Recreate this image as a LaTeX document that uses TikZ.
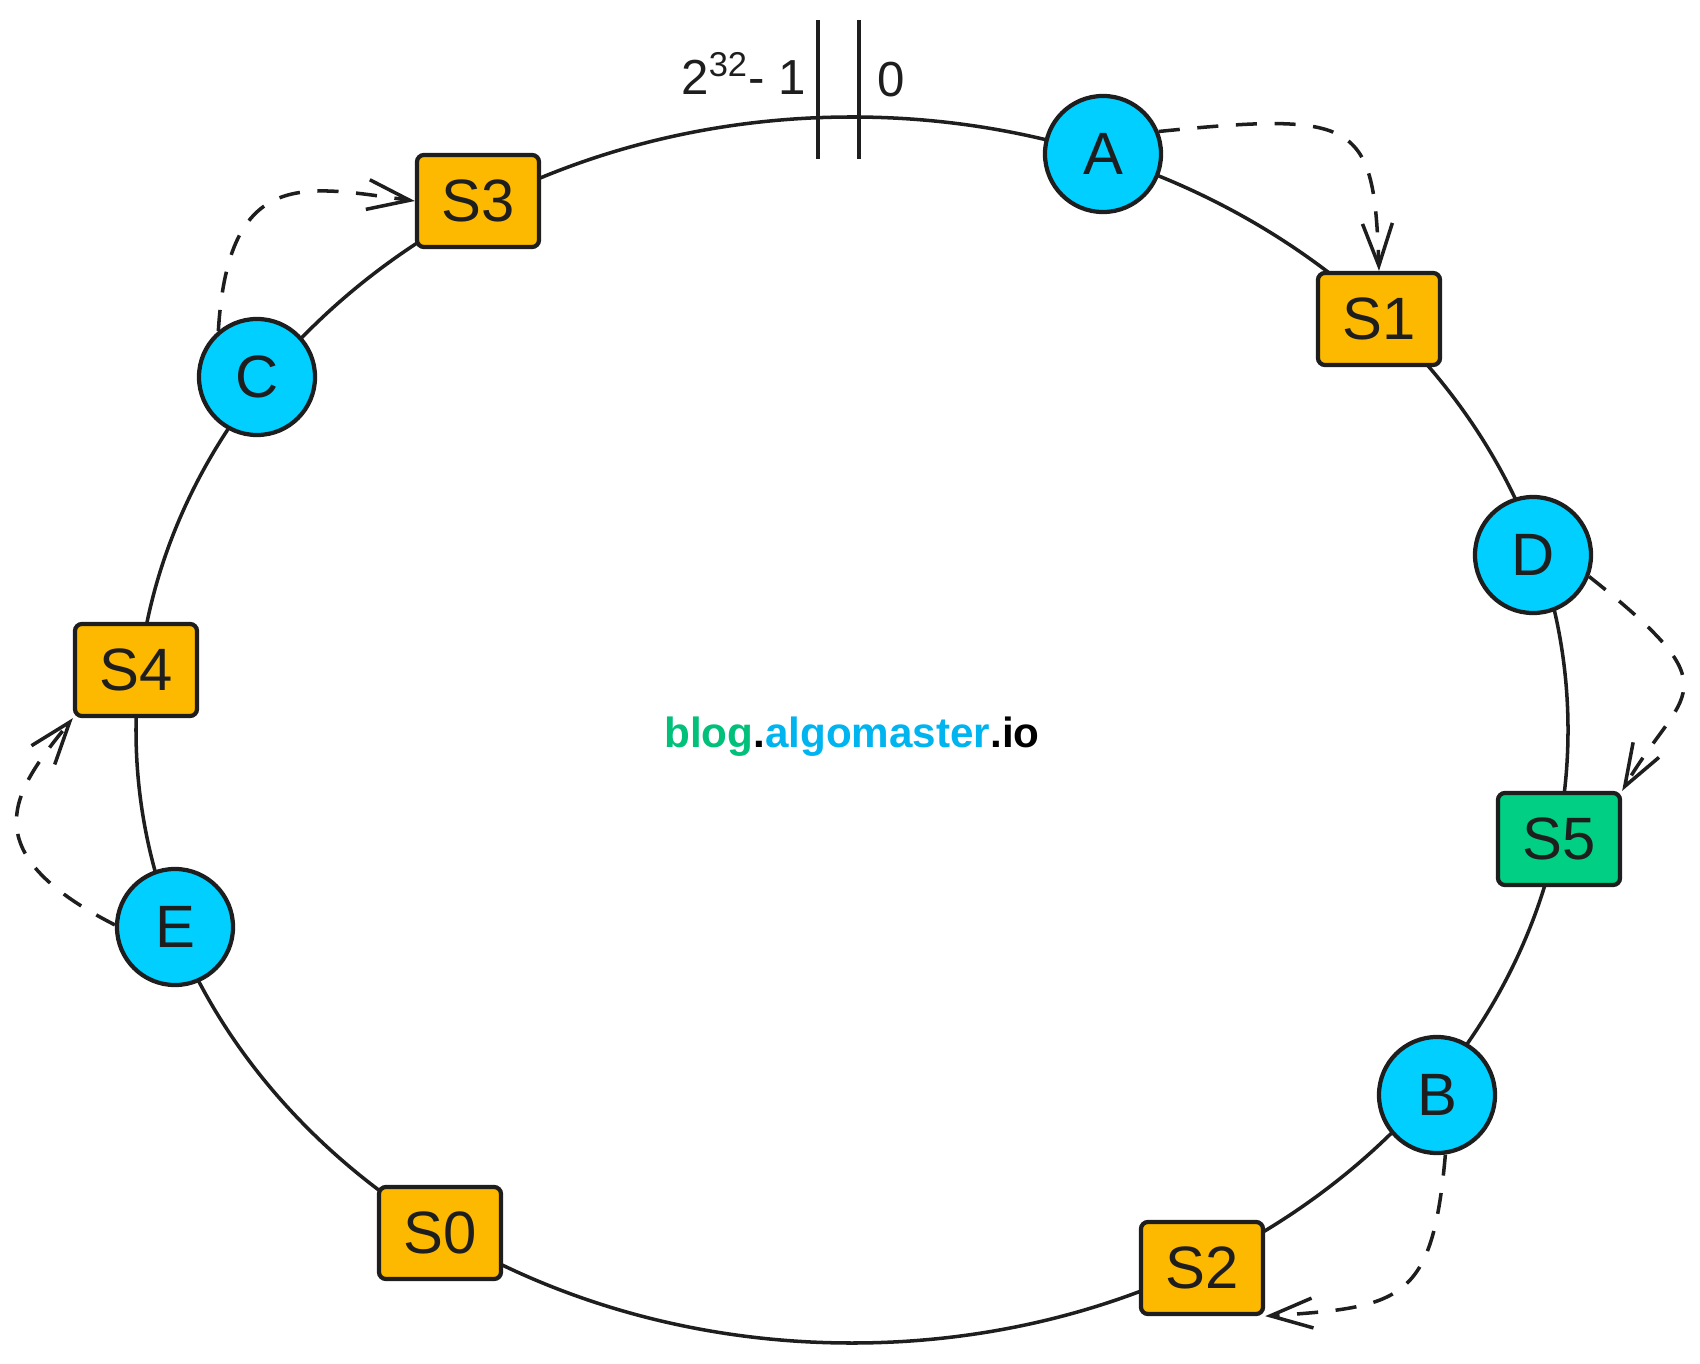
\documentclass[tikz,border=0pt]{standalone}
\usepackage{fontspec}
\setmainfont{Liberation Sans}
\usetikzlibrary{arrows.meta}
\definecolor{ink}{HTML}{1E1E1E}
\definecolor{keyblue}{HTML}{00CFFF}
\definecolor{srvorange}{HTML}{FDB900}
\definecolor{srvgreen}{HTML}{00CF84}
\definecolor{brandgreen}{HTML}{00C07A}
\definecolor{brandblue}{HTML}{00B4F0}

\begin{document}
\begin{tikzpicture}[x=0.01cm,y=-0.01cm,
  key/.style={circle,draw=ink,line width=1.2pt,fill=keyblue,text=ink,
    minimum size=1.16cm,inner sep=0pt,font=\fontsize{17}{20}\selectfont},
  server/.style={rectangle,rounded corners=2pt,draw=ink,line width=1.2pt,
    fill=srvorange,text=ink,minimum width=1.22cm,minimum height=0.92cm,
    inner sep=0pt,font=\fontsize{17}{20}\selectfont},
  lookup/.style={draw=ink,line width=1pt,dash pattern=on 6pt off 5pt,
    -{Straight Barb[length=12pt,width=8.5pt]}}]
\useasboundingbox (0,0) rectangle (1700,1364);

% the hash ring
\draw[ink,line width=1pt] (852,730) ellipse [x radius=716, y radius=613];
\draw[ink,line width=1pt] (818,20) -- (818,159) (859,20) -- (859,159);
\node (maxlabel) at (807,95) [anchor=base east,inner sep=0pt,text=ink,
  font=\fontsize{14}{16}\selectfont] {2\textsuperscript{32}- 1};
\node (zerolabel) at (877,97) [anchor=base west,inner sep=0pt,text=ink,
  font=\fontsize{14}{16}\selectfont] {0};

% servers
\node (S0) at (440,1233) [server] {S0};
\node (S1) at (1379,319) [server] {S1};
\node (S2) at (1202,1268) [server] {S2};
\node (S3) at (478,201) [server] {S3};
\node (S4) at (136,670) [server] {S4};
\node (S5) at (1559,839) [server,fill=srvgreen] {S5};

% keys
\node (A) at (1103,154) [key] {A};
\node (B) at (1437,1095) [key] {B};
\node (C) at (257,377) [key] {C};
\node (D) at (1533,555) [key] {D};
\node (E) at (175,927) [key] {E};

% each key goes clockwise to the next server
\draw[lookup] (A.22) .. controls +(200,-20) and +(-5,-150) .. (S1.north);
\draw[lookup] (D.-21) .. controls +(147,117) and +(60,-103) .. (S5.north east);
\draw[lookup] (B.-82) .. controls +(-13,147) and +(137,-9) .. (S2.south east);
\draw[lookup] (E.178) .. controls +(-147,-75) and +(-58,72) .. (S4.south west);
\draw[lookup] (C.130) .. controls +(10,-165) and +(-110,-15) .. (S3.west);

\node (brand) at (852,747) [anchor=base,font=\bfseries\fontsize{12}{14}\selectfont]
  {\textcolor{brandgreen}{blog}.\textcolor{brandblue}{algomaster}.io};
\end{tikzpicture}
\end{document}
